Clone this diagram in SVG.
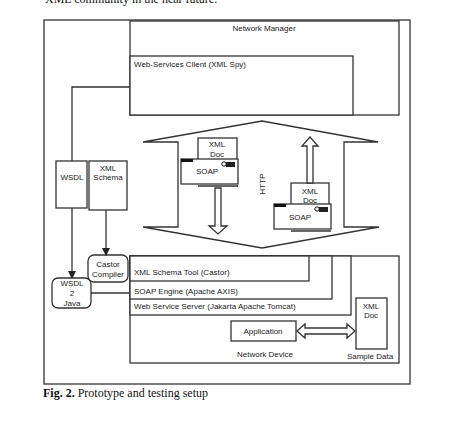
<svg xmlns="http://www.w3.org/2000/svg" width="474" height="424" viewBox="0 0 474 424">
<style>
.b{fill:#fff;stroke:#333;stroke-width:1.3}
.n{fill:none;stroke:#333;stroke-width:1.3}
.t{font-family:"Liberation Sans",Arial,sans-serif;font-size:8px;fill:#222}
.c{text-anchor:middle}
.s{font-family:"Liberation Serif","Times New Roman",serif;font-size:12px;fill:#111}
</style>
<defs>
<marker id="ah" markerWidth="8" markerHeight="8" refX="7" refY="4" orient="auto" markerUnits="userSpaceOnUse">
<path d="M0,0 L8,4 L0,8 Z" fill="#222"/>
</marker>
</defs>
<rect width="474" height="424" fill="#fff"/>
<text class="s" x="45" y="3">XML community in the near future.</text>
<rect class="n" x="44" y="20" width="366" height="364"/>

<g id="network-manager">
<rect class="b" x="130" y="21" width="269" height="94"/>
<text class="t c" x="264" y="31">Network Manager</text>
</g>
<g id="ws-client">
<rect class="b" x="130" y="56" width="223" height="59"/>
<text class="t" x="134" y="67">Web-Services Client (XML Spy)</text>
</g>

<g id="http">
<polygon class="b" points="262,121 378,142 344,142 344,227 379,227 262,248 143,227 178,227 178,142 143,142"/>
<text class="t c" transform="translate(265,184) rotate(-90)">HTTP</text>
</g>

<g id="soap-msg-1">
<rect class="b" x="198" y="138" width="39" height="24"/>
<text class="t c" x="217" y="147">XML</text>
<text class="t c" x="217" y="157">Doc</text>
<line class="n" x1="198" y1="186" x2="238" y2="186"/>
<rect class="b" x="181" y="159" width="57" height="25"/>
<rect x="181" y="159" width="12" height="3" fill="#111"/>
<circle cx="224" cy="164" r="2.2" fill="#fff" stroke="#111" stroke-width="1"/>
<rect x="226" y="162" width="9" height="5" fill="#222"/>
<text class="t c" x="207" y="174">SOAP</text>
</g>
<g id="arrow-down">
<polygon class="b" points="215,188 221,188 221,226 227,226 218,234 209,226 215,226"/>
</g>

<g id="soap-msg-2">
<rect class="b" x="291" y="183" width="38" height="24"/>
<text class="t c" x="310" y="194">XML</text>
<text class="t c" x="310" y="203">Doc</text>
<line class="n" x1="291" y1="231" x2="331" y2="231"/>
<rect class="b" x="274" y="204" width="57" height="25"/>
<rect x="274" y="204" width="12" height="3" fill="#111"/>
<circle cx="317" cy="209" r="2.2" fill="#fff" stroke="#111" stroke-width="1"/>
<rect x="319" y="207" width="9" height="5" fill="#222"/>
<text class="t c" x="300" y="220">SOAP</text>
</g>
<g id="arrow-up">
<polygon class="b" points="307,183 313,183 313,146 318,146 310,137 302,146 307,146"/>
</g>

<g id="wsdl">
<rect class="b" x="56" y="161" width="31" height="47"/>
<text class="t c" x="72" y="180">WSDL</text>
</g>
<g id="xml-schema">
<rect class="b" x="89" y="161" width="38" height="49"/>
<text class="t c" x="108" y="171">XML</text>
<text class="t c" x="108" y="180">Schema</text>
</g>
<g id="castor-compiler">
<rect class="b" x="88" y="255" width="40" height="27" rx="6"/>
<text class="t c" x="108" y="267">Castor</text>
<text class="t c" x="108" y="277">Compiler</text>
</g>
<g id="wsdl2java">
<rect class="b" x="52" y="278" width="39" height="30" rx="6"/>
<text class="t c" x="72" y="286">WSDL</text>
<text class="t c" x="72" y="296">2</text>
<text class="t c" x="72" y="306">Java</text>
</g>

<g id="network-device">
<rect class="b" x="130" y="256" width="269" height="107"/>
<rect class="b" x="130" y="256" width="221" height="59"/>
<rect class="b" x="130" y="256" width="202" height="43"/>
<rect class="b" x="130" y="256" width="179" height="25"/>
<text class="t" x="134" y="275">XML Schema Tool (Castor)</text>
<text class="t" x="134" y="294">SOAP Engine (Apache AXIS)</text>
<text class="t" x="134" y="309">Web Service Server (Jakarta Apache Tomcat)</text>
<text class="t c" x="265" y="357">Network Device</text>
</g>
<g id="application">
<rect class="b" x="231" y="321" width="65" height="20"/>
<text class="t c" x="263" y="334">Application</text>
</g>
<g id="sample-data">
<rect class="b" x="356" y="298" width="31" height="51"/>
<text class="t c" x="371" y="309">XML</text>
<text class="t c" x="371" y="318">Doc</text>
<text class="t c" x="370" y="359">Sample Data</text>
</g>

<g id="connectors">
<polyline class="n" points="130,87 72,87 72,161"/>
<line class="n" x1="72" y1="208" x2="72" y2="278" marker-end="url(#ah)"/>
<line class="n" x1="106" y1="210" x2="106" y2="255" marker-end="url(#ah)"/>
<line class="n" x1="91" y1="293" x2="130" y2="293"/>
<polygon class="b" points="297,331 305,324 305,328 347,328 347,324 355,331 347,338 347,334 305,334 305,338"/>
</g>

<text class="s" x="43" y="397"><tspan font-weight="bold">Fig. 2.</tspan> Prototype and testing setup</text>
</svg>
